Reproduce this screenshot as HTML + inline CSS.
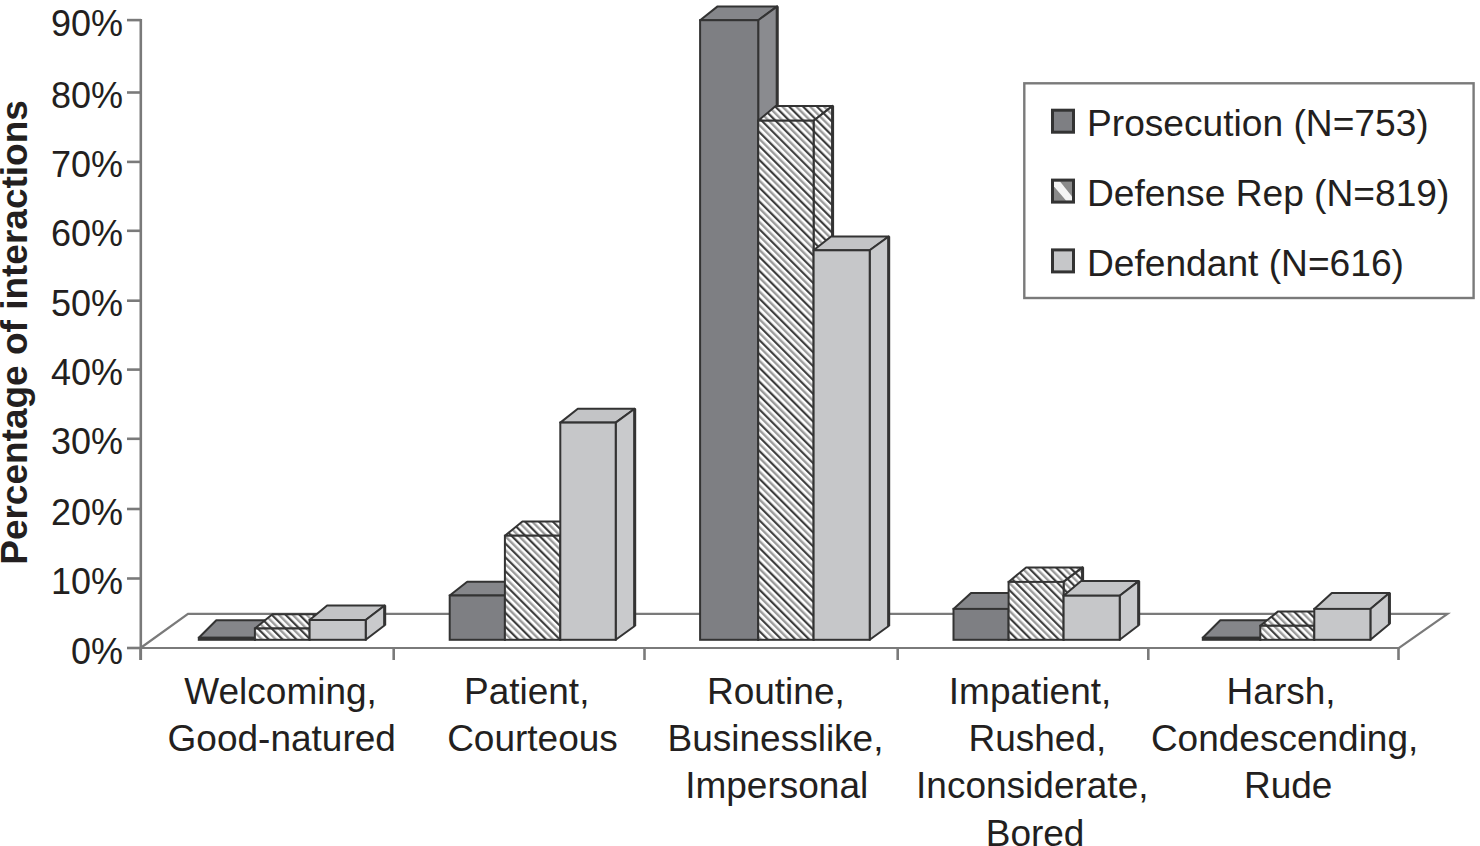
<!DOCTYPE html>
<html><head><meta charset="utf-8"><style>
html,body{margin:0;padding:0;background:#fff;width:1480px;height:846px;overflow:hidden}
svg{display:block;font-family:"Liberation Sans",sans-serif}
</style></head><body>
<svg width="1480" height="846" viewBox="0 0 1480 846">
<defs><pattern id="hatch" patternUnits="userSpaceOnUse" width="9.8" height="9.8" patternTransform="translate(0,-2) rotate(-45)"><rect width="9.8" height="9.8" fill="#fff"/><rect x="0" y="0" width="2.2" height="9.8" fill="#3e3e3e"/><rect x="4.9" y="0" width="2.4" height="9.8" fill="#9c9c9c"/></pattern></defs>
<rect width="1480" height="846" fill="#fff"/>
<polygon points="140.5,648 1399,648 1447.5,613.9 188,613.9" fill="#fff" stroke="#7a7a7a" stroke-width="2.2"/>
<line x1="140.8" y1="19" x2="140.8" y2="660" stroke="#7a7a7a" stroke-width="2.6"/>
<line x1="127" y1="648" x2="141" y2="648" stroke="#7a7a7a" stroke-width="2.6"/>
<text x="123" y="663.5" text-anchor="end" font-size="36" fill="#231f20">0%</text>
<line x1="127" y1="578.5" x2="141" y2="578.5" stroke="#7a7a7a" stroke-width="2.6"/>
<text x="123" y="594.0" text-anchor="end" font-size="36" fill="#231f20">10%</text>
<line x1="127" y1="509" x2="141" y2="509" stroke="#7a7a7a" stroke-width="2.6"/>
<text x="123" y="524.5" text-anchor="end" font-size="36" fill="#231f20">20%</text>
<line x1="127" y1="438.8" x2="141" y2="438.8" stroke="#7a7a7a" stroke-width="2.6"/>
<text x="123" y="454.3" text-anchor="end" font-size="36" fill="#231f20">30%</text>
<line x1="127" y1="369.6" x2="141" y2="369.6" stroke="#7a7a7a" stroke-width="2.6"/>
<text x="123" y="385.1" text-anchor="end" font-size="36" fill="#231f20">40%</text>
<line x1="127" y1="300.7" x2="141" y2="300.7" stroke="#7a7a7a" stroke-width="2.6"/>
<text x="123" y="316.2" text-anchor="end" font-size="36" fill="#231f20">50%</text>
<line x1="127" y1="230.8" x2="141" y2="230.8" stroke="#7a7a7a" stroke-width="2.6"/>
<text x="123" y="246.3" text-anchor="end" font-size="36" fill="#231f20">60%</text>
<line x1="127" y1="161.9" x2="141" y2="161.9" stroke="#7a7a7a" stroke-width="2.6"/>
<text x="123" y="177.4" text-anchor="end" font-size="36" fill="#231f20">70%</text>
<line x1="127" y1="92.5" x2="141" y2="92.5" stroke="#7a7a7a" stroke-width="2.6"/>
<text x="123" y="108.0" text-anchor="end" font-size="36" fill="#231f20">80%</text>
<line x1="127" y1="20.1" x2="141" y2="20.1" stroke="#7a7a7a" stroke-width="2.6"/>
<text x="123" y="35.6" text-anchor="end" font-size="36" fill="#231f20">90%</text>
<line x1="140.6" y1="647" x2="140.6" y2="660" stroke="#7a7a7a" stroke-width="2.6"/>
<line x1="393.7" y1="647" x2="393.7" y2="660" stroke="#7a7a7a" stroke-width="2.6"/>
<line x1="644.5" y1="647" x2="644.5" y2="660" stroke="#7a7a7a" stroke-width="2.6"/>
<line x1="897.7" y1="647" x2="897.7" y2="660" stroke="#7a7a7a" stroke-width="2.6"/>
<line x1="1148.3" y1="647" x2="1148.3" y2="660" stroke="#7a7a7a" stroke-width="2.6"/>
<line x1="1398.5" y1="647" x2="1398.5" y2="660" stroke="#7a7a7a" stroke-width="2.6"/>
<polygon points="198.8,637.8 216.3,620.3 273.9,620.3 254.9,637.8" fill="#85868a" stroke="#333333" stroke-width="2" stroke-linejoin="round"/>
<polygon points="254.9,637.8 273.9,620.3 273.9,622.3 254.9,639.8" fill="#8a8b8f" stroke="#333333" stroke-width="2" stroke-linejoin="round"/>
<line x1="273.9" y1="620.3" x2="273.9" y2="622.3" stroke="#333333" stroke-width="3"/>
<rect x="198.8" y="637.8" width="56.099999999999994" height="2.0" fill="#333333" stroke="#333333" stroke-width="2"/>
<polygon points="254.9,628.5 272.4,614.3 328.6,614.3 309.6,628.5" fill="url(#hatch)" stroke="#333333" stroke-width="2" stroke-linejoin="round"/>
<polygon points="309.6,628.5 328.6,614.3 328.6,625.5999999999999 309.6,639.8" fill="url(#hatch)" stroke="#333333" stroke-width="2" stroke-linejoin="round"/>
<line x1="328.6" y1="614.3" x2="328.6" y2="625.5999999999999" stroke="#333333" stroke-width="3"/>
<rect x="254.9" y="628.5" width="54.70000000000002" height="11.299999999999955" fill="url(#hatch)" stroke="#333333" stroke-width="2"/>
<polygon points="309.6,620.0 327.1,605.5 384.7,605.5 365.7,620.0" fill="#c3c4c6" stroke="#333333" stroke-width="2" stroke-linejoin="round"/>
<polygon points="365.7,620.0 384.7,605.5 384.7,625.3 365.7,639.8" fill="#c9cacc" stroke="#333333" stroke-width="2" stroke-linejoin="round"/>
<line x1="384.7" y1="605.5" x2="384.7" y2="625.3" stroke="#333333" stroke-width="3"/>
<rect x="309.6" y="620.0" width="56.099999999999966" height="19.799999999999955" fill="#c6c7c9" stroke="#333333" stroke-width="2"/>
<polygon points="449.7,595.5 467.2,581.7 523.9,581.7 504.9,595.5" fill="#85868a" stroke="#333333" stroke-width="2" stroke-linejoin="round"/>
<polygon points="504.9,595.5 523.9,581.7 523.9,626.0 504.9,639.8" fill="#8a8b8f" stroke="#333333" stroke-width="2" stroke-linejoin="round"/>
<line x1="523.9" y1="581.7" x2="523.9" y2="626.0" stroke="#333333" stroke-width="3"/>
<rect x="449.7" y="595.5" width="55.19999999999999" height="44.299999999999955" fill="#7e7f83" stroke="#333333" stroke-width="2"/>
<polygon points="504.9,535.7 522.4,521.5 579.3,521.5 560.3,535.7" fill="url(#hatch)" stroke="#333333" stroke-width="2" stroke-linejoin="round"/>
<polygon points="560.3,535.7 579.3,521.5 579.3,625.5999999999999 560.3,639.8" fill="url(#hatch)" stroke="#333333" stroke-width="2" stroke-linejoin="round"/>
<line x1="579.3" y1="521.5" x2="579.3" y2="625.5999999999999" stroke="#333333" stroke-width="3"/>
<rect x="504.9" y="535.7" width="55.39999999999998" height="104.09999999999991" fill="url(#hatch)" stroke="#333333" stroke-width="2"/>
<polygon points="560.3,422.6 577.8,408.8 634.7,408.8 615.7,422.6" fill="#c3c4c6" stroke="#333333" stroke-width="2" stroke-linejoin="round"/>
<polygon points="615.7,422.6 634.7,408.8 634.7,626.0 615.7,639.8" fill="#c9cacc" stroke="#333333" stroke-width="2" stroke-linejoin="round"/>
<line x1="634.7" y1="408.8" x2="634.7" y2="626.0" stroke="#333333" stroke-width="3"/>
<rect x="560.3" y="422.6" width="55.40000000000009" height="217.19999999999993" fill="#c6c7c9" stroke="#333333" stroke-width="2"/>
<polygon points="700.1,20.2 717.6,6.399999999999999 777.2,6.399999999999999 758.2,20.2" fill="#85868a" stroke="#333333" stroke-width="2" stroke-linejoin="round"/>
<polygon points="758.2,20.2 777.2,6.399999999999999 777.2,626.0 758.2,639.8" fill="#8a8b8f" stroke="#333333" stroke-width="2" stroke-linejoin="round"/>
<line x1="777.2" y1="6.399999999999999" x2="777.2" y2="626.0" stroke="#333333" stroke-width="3"/>
<rect x="700.1" y="20.2" width="58.10000000000002" height="619.5999999999999" fill="#7e7f83" stroke="#333333" stroke-width="2"/>
<polygon points="758.2,120.7 775.7,105.9 832.6,105.9 813.6,120.7" fill="url(#hatch)" stroke="#333333" stroke-width="2" stroke-linejoin="round"/>
<polygon points="813.6,120.7 832.6,105.9 832.6,625.0 813.6,639.8" fill="url(#hatch)" stroke="#333333" stroke-width="2" stroke-linejoin="round"/>
<line x1="832.6" y1="105.9" x2="832.6" y2="625.0" stroke="#333333" stroke-width="3"/>
<rect x="758.2" y="120.7" width="55.39999999999998" height="519.0999999999999" fill="url(#hatch)" stroke="#333333" stroke-width="2"/>
<polygon points="813.6,250.3 831.1,236.5 888.7,236.5 869.7,250.3" fill="#c3c4c6" stroke="#333333" stroke-width="2" stroke-linejoin="round"/>
<polygon points="869.7,250.3 888.7,236.5 888.7,626.0 869.7,639.8" fill="#c9cacc" stroke="#333333" stroke-width="2" stroke-linejoin="round"/>
<line x1="888.7" y1="236.5" x2="888.7" y2="626.0" stroke="#333333" stroke-width="3"/>
<rect x="813.6" y="250.3" width="56.10000000000002" height="389.49999999999994" fill="#c6c7c9" stroke="#333333" stroke-width="2"/>
<polygon points="953.5,608.9 971.0,593.0 1027.6,593.0 1008.6,608.9" fill="#85868a" stroke="#333333" stroke-width="2" stroke-linejoin="round"/>
<polygon points="1008.6,608.9 1027.6,593.0 1027.6,623.9 1008.6,639.8" fill="#8a8b8f" stroke="#333333" stroke-width="2" stroke-linejoin="round"/>
<line x1="1027.6" y1="593.0" x2="1027.6" y2="623.9" stroke="#333333" stroke-width="3"/>
<rect x="953.5" y="608.9" width="55.10000000000002" height="30.899999999999977" fill="#7e7f83" stroke="#333333" stroke-width="2"/>
<polygon points="1008.6,581.9 1026.1,567.4 1082.6,567.4 1063.6,581.9" fill="url(#hatch)" stroke="#333333" stroke-width="2" stroke-linejoin="round"/>
<polygon points="1063.6,581.9 1082.6,567.4 1082.6,625.3 1063.6,639.8" fill="url(#hatch)" stroke="#333333" stroke-width="2" stroke-linejoin="round"/>
<line x1="1082.6" y1="567.4" x2="1082.6" y2="625.3" stroke="#333333" stroke-width="3"/>
<rect x="1008.6" y="581.9" width="54.999999999999886" height="57.89999999999998" fill="url(#hatch)" stroke="#333333" stroke-width="2"/>
<polygon points="1063.6,595.7 1081.1,581.1 1138.7,581.1 1119.7,595.7" fill="#c3c4c6" stroke="#333333" stroke-width="2" stroke-linejoin="round"/>
<polygon points="1119.7,595.7 1138.7,581.1 1138.7,625.1999999999999 1119.7,639.8" fill="#c9cacc" stroke="#333333" stroke-width="2" stroke-linejoin="round"/>
<line x1="1138.7" y1="581.1" x2="1138.7" y2="625.1999999999999" stroke="#333333" stroke-width="3"/>
<rect x="1063.6" y="595.7" width="56.100000000000136" height="44.09999999999991" fill="#c6c7c9" stroke="#333333" stroke-width="2"/>
<polygon points="1202.8,637.8 1220.3,620.3 1279.3,620.3 1260.3,637.8" fill="#85868a" stroke="#333333" stroke-width="2" stroke-linejoin="round"/>
<polygon points="1260.3,637.8 1279.3,620.3 1279.3,622.3 1260.3,639.8" fill="#8a8b8f" stroke="#333333" stroke-width="2" stroke-linejoin="round"/>
<line x1="1279.3" y1="620.3" x2="1279.3" y2="622.3" stroke="#333333" stroke-width="3"/>
<rect x="1202.8" y="637.8" width="57.5" height="2.0" fill="#333333" stroke="#333333" stroke-width="2"/>
<polygon points="1260.3,625.8 1277.8,611.5999999999999 1333.3,611.5999999999999 1314.3,625.8" fill="url(#hatch)" stroke="#333333" stroke-width="2" stroke-linejoin="round"/>
<polygon points="1314.3,625.8 1333.3,611.5999999999999 1333.3,625.5999999999999 1314.3,639.8" fill="url(#hatch)" stroke="#333333" stroke-width="2" stroke-linejoin="round"/>
<line x1="1333.3" y1="611.5999999999999" x2="1333.3" y2="625.5999999999999" stroke="#333333" stroke-width="3"/>
<rect x="1260.3" y="625.8" width="54.0" height="14.0" fill="url(#hatch)" stroke="#333333" stroke-width="2"/>
<polygon points="1314.3,608.9 1331.8,593.0 1389.4,593.0 1370.4,608.9" fill="#c3c4c6" stroke="#333333" stroke-width="2" stroke-linejoin="round"/>
<polygon points="1370.4,608.9 1389.4,593.0 1389.4,623.9 1370.4,639.8" fill="#c9cacc" stroke="#333333" stroke-width="2" stroke-linejoin="round"/>
<line x1="1389.4" y1="593.0" x2="1389.4" y2="623.9" stroke="#333333" stroke-width="3"/>
<rect x="1314.3" y="608.9" width="56.100000000000136" height="30.899999999999977" fill="#c6c7c9" stroke="#333333" stroke-width="2"/>
<rect x="1024.3" y="83.3" width="449.3" height="214.7" fill="#fff" stroke="#7a7a7a" stroke-width="2.4"/>
<rect x="1052.5" y="110.2" width="21" height="22" fill="#7e7f83" stroke="#333333" stroke-width="3"/>
<text x="1087" y="136.2" font-size="37.15" fill="#231f20">Prosecution (N=753)</text>
<rect x="1052.5" y="180.1" width="21" height="22" fill="#8a8a8a"/>
<polygon points="1054,181.6 1060,181.6 1072,196.6 1072,200.6 1066,200.6 1054,186.6" fill="#f4f4f4"/>
<rect x="1052.5" y="180.1" width="21" height="22" fill="none" stroke="#333333" stroke-width="3"/>
<text x="1087" y="206.1" font-size="37.15" fill="#231f20">Defense Rep (N=819)</text>
<rect x="1052.5" y="249.9" width="21" height="22" fill="#c6c7c9" stroke="#333333" stroke-width="3"/>
<text x="1087" y="275.9" font-size="37.15" fill="#231f20">Defendant (N=616)</text>
<text x="280.6" y="703.9" text-anchor="middle" font-size="37" fill="#231f20">Welcoming,</text>
<text x="281.75" y="751.2" text-anchor="middle" font-size="37" fill="#231f20">Good-natured</text>
<text x="526.7" y="703.9" text-anchor="middle" font-size="37" fill="#231f20">Patient,</text>
<text x="532.5" y="751.2" text-anchor="middle" font-size="37" fill="#231f20">Courteous</text>
<text x="775.85" y="703.9" text-anchor="middle" font-size="37" fill="#231f20">Routine,</text>
<text x="775.5" y="751.2" text-anchor="middle" font-size="37" fill="#231f20">Businesslike,</text>
<text x="776.7" y="798.4" text-anchor="middle" font-size="37" fill="#231f20">Impersonal</text>
<text x="1030.1" y="703.9" text-anchor="middle" font-size="37" fill="#231f20">Impatient,</text>
<text x="1037.35" y="751.2" text-anchor="middle" font-size="37" fill="#231f20">Rushed,</text>
<text x="1032.3" y="798.4" text-anchor="middle" font-size="37" fill="#231f20">Inconsiderate,</text>
<text x="1035.1" y="845.5" text-anchor="middle" font-size="37" fill="#231f20">Bored</text>
<text x="1281.1" y="703.9" text-anchor="middle" font-size="37" fill="#231f20">Harsh,</text>
<text x="1284.6" y="751.2" text-anchor="middle" font-size="37" fill="#231f20">Condescending,</text>
<text x="1288.2" y="798.4" text-anchor="middle" font-size="37" fill="#231f20">Rude</text>
<text transform="translate(26.6,564.8) rotate(-90)" font-size="37" font-weight="bold" fill="#231f20">Percentage of interactions</text>
</svg>
</body></html>
